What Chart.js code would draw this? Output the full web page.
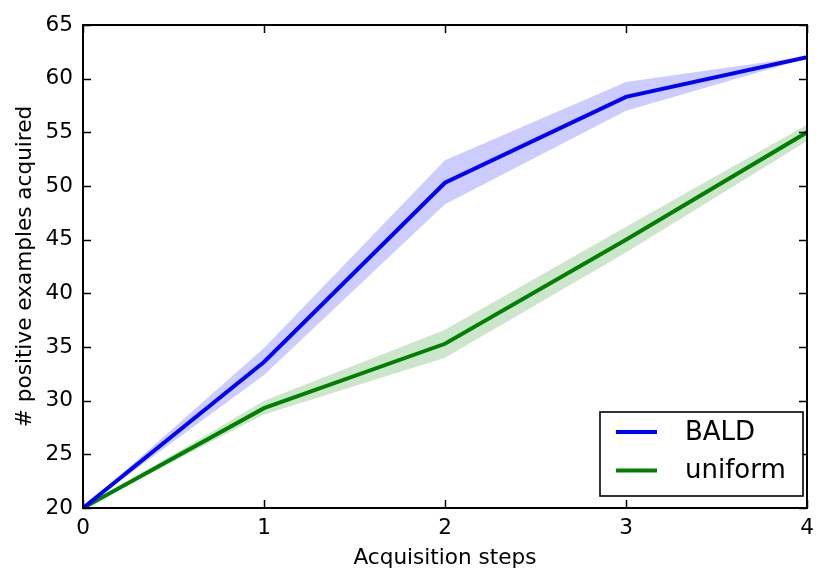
<!DOCTYPE html>
<html>
<head>
<meta charset="utf-8">
<script src="https://cdn.jsdelivr.net/npm/chart.js@4.4.1/dist/chart.umd.min.js"></script>
<style>
  html, body { margin: 0; padding: 0; background: #fff; }
  #wrap { width: 830px; height: 586px; position: relative; }
</style>
</head>
<body>
<div id="wrap"><canvas id="c" width="830" height="586"></canvas></div>
<script>
const steps = [0, 1, 2, 3, 4];
const baldMean  = [20, 33.6, 50.3, 58.3, 62.0];
const baldUpper = [20, 34.9, 52.4, 59.7, 62.1];
const baldLower = [20, 32.4, 48.3, 57.0, 61.9];
const uniformMean  = [20, 29.3, 35.3, 45.0, 55.0];
const uniformUpper = [20, 30.0, 36.6, 46.2, 55.7];
const uniformLower = [20, 28.7, 34.0, 43.8, 54.2];
const seriesNames = ['BALD', 'uniform'];
const xTitle = 'Acquisition steps';
const yTitle = '# positive examples acquired';

const toPts = arr => steps.map((s, i) => ({ x: s, y: arr[i] }));
const FONT = 'DejaVu Sans';
const FS = 21.6;

const frameTicks = {
  id: 'frameTicks',
  afterDatasetsDraw(chart) {
    const { ctx, chartArea: a, scales } = chart;
    ctx.save();
    ctx.strokeStyle = '#000';
    ctx.lineWidth = 1.5;
    const L = 8;
    scales.x.ticks.forEach(t => {
      const px = Math.round(scales.x.getPixelForValue(t.value)) + 0.5;
      ctx.beginPath();
      ctx.moveTo(px, a.bottom); ctx.lineTo(px, a.bottom - L);
      ctx.moveTo(px, a.top); ctx.lineTo(px, a.top + L);
      ctx.stroke();
    });
    scales.y.ticks.forEach(t => {
      const py = Math.round(scales.y.getPixelForValue(t.value)) + 0.5;
      ctx.beginPath();
      ctx.moveTo(a.left, py); ctx.lineTo(a.left + L, py);
      ctx.moveTo(a.right, py); ctx.lineTo(a.right - L, py);
      ctx.stroke();
    });
    ctx.lineWidth = 2;
    ctx.strokeRect(a.left, a.top, a.right - a.left, a.bottom - a.top);
    ctx.restore();
  }
};

const boxLegend = {
  id: 'boxLegend',
  afterDraw(chart) {
    const { ctx, chartArea: a } = chart;
    const items = chart.data.datasets.filter(d => d.isMain);
    const w = 203, h = 84;
    const x0 = a.right - 4 - w, y0 = a.bottom - 12 - h;
    ctx.save();
    ctx.fillStyle = '#fff';
    ctx.fillRect(x0, y0, w, h);
    ctx.strokeStyle = '#000';
    ctx.lineWidth = 1.6;
    ctx.strokeRect(x0, y0, w, h);
    ctx.font = '26px "' + FONT + '"';
    ctx.textBaseline = 'middle';
    items.forEach((d, i) => {
      const y = y0 + 20 + i * 38.5;
      ctx.strokeStyle = d.borderColor;
      ctx.lineWidth = 4;
      ctx.beginPath();
      ctx.moveTo(x0 + 16, y); ctx.lineTo(x0 + 57, y);
      ctx.stroke();
      ctx.fillStyle = '#000';
      ctx.fillText(d.label, x0 + 85, y + 1);
    });
    ctx.restore();
  }
};

const band = (label, data, color, fill) => ({
  label, data: toPts(data), borderWidth: 0, borderColor: 'rgba(0,0,0,0)',
  backgroundColor: color, pointRadius: 0, fill, tension: 0, isMain: false, order: 2
});

new Chart(document.getElementById('c'), {
  type: 'line',
  data: {
    datasets: [
      band('baldLower', baldLower, 'rgba(0,0,255,0.2)', false),
      band('baldUpper', baldUpper, 'rgba(0,0,255,0.2)', '-1'),
      band('uniformLower', uniformLower, 'rgba(0,128,0,0.2)', false),
      band('uniformUpper', uniformUpper, 'rgba(0,128,0,0.2)', '-1'),
      { label: seriesNames[0], data: toPts(baldMean), borderColor: '#0000ff', borderWidth: 4,
        pointRadius: 0, fill: false, tension: 0, isMain: true, order: 1, clip: 0 },
      { label: seriesNames[1], data: toPts(uniformMean), borderColor: '#008000', borderWidth: 4,
        pointRadius: 0, fill: false, tension: 0, isMain: true, order: 1, clip: 0 }
    ]
  },
  options: {
    responsive: false,
    animation: false,
    devicePixelRatio: 1,
    layout: { padding: { left: 0, right: 23, top: 25, bottom: 0 } },
    plugins: { legend: { display: false }, tooltip: { enabled: false }, filler: { propagate: false } },
    scales: {
      x: {
        type: 'linear', min: 0, max: 4,
        ticks: { stepSize: 1, color: '#000', padding: 7, font: { family: FONT, size: FS } },
        grid: { display: false, drawTicks: false },
        border: { display: false },
        title: { display: true, text: xTitle, color: '#000', font: { family: FONT, size: FS }, padding: { top: 0, bottom: 15 } },
        afterFit: s => { s.height = 78; }
      },
      y: {
        type: 'linear', min: 20, max: 65,
        ticks: { stepSize: 5, color: '#000', padding: 10, font: { family: FONT, size: FS } },
        grid: { display: false, drawTicks: false },
        border: { display: false },
        title: { display: true, text: yTitle, color: '#000', font: { family: FONT, size: FS }, padding: { top: 12, bottom: 0 } },
        afterFit: s => { s.width = 83; }
      }
    }
  },
  plugins: [frameTicks, boxLegend]
});
</script>
</body>
</html>
